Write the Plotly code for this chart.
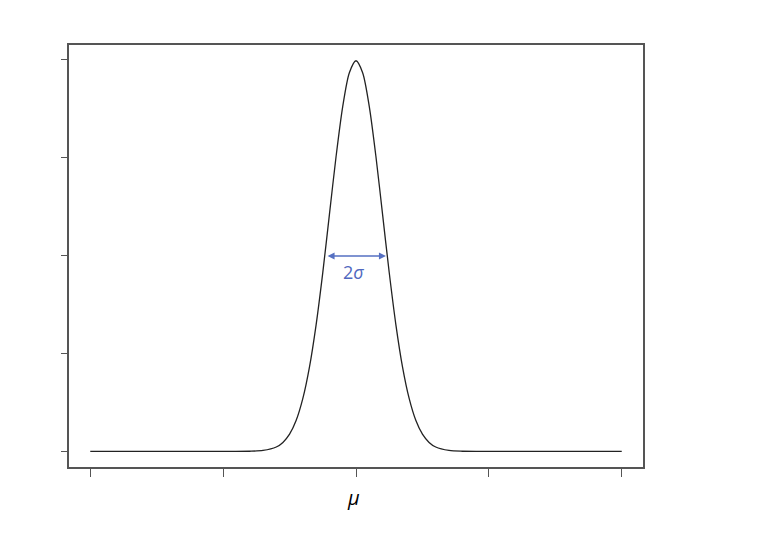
import plotly.graph_objects as go

# density curve (standard normal, mu = 0, sigma = 1)
x_vals = [-10, -6, -5, -4, -3.5, -3, -2.75, -2.5, -2.25, -2, -1.75, -1.5, -1.25, -1,
          -0.75, -0.5, -0.25, 0, 0.25, 0.5, 0.75, 1, 1.25, 1.5, 1.75, 2, 2.25, 2.5,
          2.75, 3, 3.5, 4, 5, 6, 10]
y_vals = [0, 0, 0, 0.0001, 0.0009, 0.0044, 0.0091, 0.0175, 0.0317, 0.0540, 0.0863,
          0.1295, 0.1826, 0.2420, 0.3011, 0.3521, 0.3867, 0.3989, 0.3867, 0.3521,
          0.3011, 0.2420, 0.1826, 0.1295, 0.0863, 0.0540, 0.0317, 0.0175, 0.0091,
          0.0044, 0.0009, 0.0001, 0, 0, 0]

x_ticks = [-10, -5, 0, 5, 10]
y_ticks = [0, 0.1, 0.2, 0.3, 0.4]

half_max = 0.1995
half_width = 1.1774

fig = go.Figure(go.Scatter(
    x=x_vals, y=y_vals, mode="lines",
    line=dict(color="#222222", width=1.3, shape="spline", smoothing=0.8),
    hoverinfo="skip",
))

# double-headed arrow at half height
fig.add_annotation(
    x=half_width - 0.05, y=half_max, ax=-half_width + 0.05, ay=half_max,
    xref="x", yref="y", axref="x", ayref="y",
    showarrow=True, arrowhead=2, startarrowhead=2, arrowside="end+start",
    arrowsize=1.0, startarrowsize=1.0, arrowwidth=1.4, arrowcolor="#5670C2", text="",
)
fig.add_annotation(
    x=-0.1, y=half_max, xref="x", yref="y", yanchor="middle", yshift=-16,
    showarrow=False,
    text="2<i>σ</i>", font=dict(family="Open Sans", size=18, color="#5068C0"),
)
fig.add_annotation(
    x=-0.1, y=0, xref="x", yref="paper", yanchor="middle", yshift=-30,
    showarrow=False,
    text="<i>μ</i>", font=dict(family="Open Sans", size=20, color="black"),
)

axis_style = dict(
    showline=True, linecolor="#555555", linewidth=1.5, mirror=True,
    showgrid=False, zeroline=False, ticks="outside", tickcolor="#555555",
    tickwidth=1.2, showticklabels=False,
)
fig.update_xaxes(range=[-10.8, 10.8], tickvals=x_ticks, ticklen=8, **axis_style)
fig.update_yaxes(range=[-0.016, 0.415], tickvals=y_ticks, ticklen=6, **axis_style)

# page has an 8px body margin, so the figure is drawn a little smaller
fig.update_layout(
    width=760, height=542,
    margin=dict(l=61, r=125, t=37, b=83),
    plot_bgcolor="white", paper_bgcolor="white",
    showlegend=False,
)

fig.write_html("out.html")
